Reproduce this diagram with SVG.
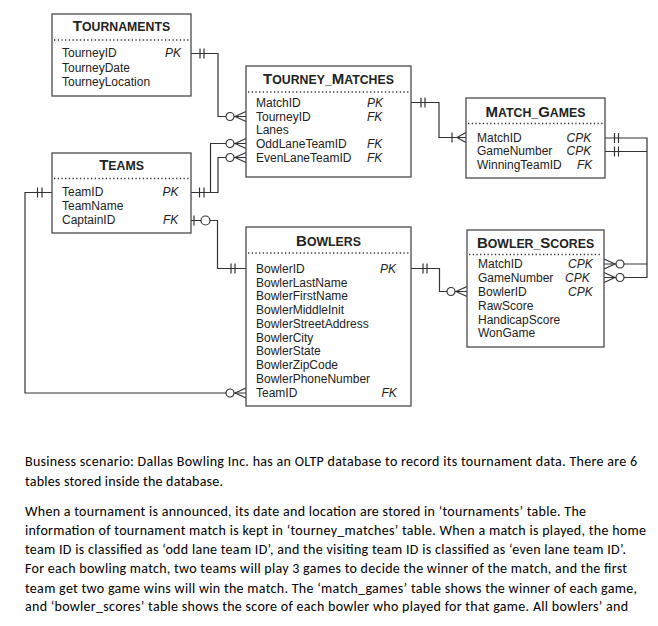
<svg xmlns="http://www.w3.org/2000/svg" width="658" height="626" viewBox="0 0 658 626">
<style>
.box{fill:#fff;stroke:#4a4a4a;stroke-width:1.3}
.dot{stroke:#333;stroke-width:1.4;stroke-dasharray:1.3 2.4;fill:none}
.ttl{font-family:"Liberation Sans",Arial,sans-serif;font-weight:bold;fill:#222;text-anchor:middle}
.big{font-size:15px}
.sm{font-size:12.3px}
.f{font-family:"Liberation Sans",Arial,sans-serif;font-size:12px;fill:#222}
.k{font-family:"Liberation Sans",Arial,sans-serif;font-size:12px;font-style:italic;fill:#222}
.ln{fill:none;stroke:#333;stroke-width:1.2}
.c{fill:#fff;stroke:#333;stroke-width:1.2}
.p{font-family:Carlito,Lato,"Liberation Sans",sans-serif;font-size:14px;fill:#000}
</style>
<defs>
<g id="zm"><circle class="c" cx="-16" cy="0" r="4"/><path class="ln" d="M-11,0 L0,-5 M-11,0 L0,5"/></g>
</defs>

<g id="connectors">
<!-- Tournaments -> Tourney_Matches -->
<path class="ln" d="M191,53.5 H218 V116.5 H246"/>
<path class="ln" d="M200,48.5 V58.5 M204,48.5 V58.5"/>
<use href="#zm" x="246" y="116.5"/>
<!-- Teams TeamID -> Tourney_Matches Odd/Even -->
<path class="ln" d="M191,192.5 H218 V157.5 H246 M210.5,192.5 V143.5 H246"/>
<path class="ln" d="M199.5,187.5 V197.5 M204,187.5 V197.5"/>
<use href="#zm" x="246" y="143.5"/>
<use href="#zm" x="246" y="157.5"/>
<!-- Teams TeamID -> Bowlers TeamID -->
<path class="ln" d="M52,192.5 H25 V393 H246"/>
<path class="ln" d="M37.5,187.5 V197.5 M42,187.5 V197.5"/>
<use href="#zm" x="246" y="393"/>
<!-- Teams CaptainID -> Bowlers BowlerID -->
<path class="ln" d="M191,220.5 H217.5 V268.5 H246"/>
<path class="ln" d="M194,215.5 V225.5 M231,263.5 V273.5 M235,263.5 V273.5"/>
<circle class="c" cx="205.5" cy="220.5" r="4.5"/>
<!-- Tourney_Matches -> Match_Games -->
<path class="ln" d="M411,102.5 H439 V137.5 H466"/>
<path class="ln" d="M421,97.5 V107.5 M425,97.5 V107.5 M452,132.5 V142.5 M457,137.5 L466,132.5 M457,137.5 L466,142.5"/>
<!-- Match_Games -> Bowler_Scores -->
<path class="ln" d="M605,138 H647 V277.5 H604 M605,151.5 H647 M647,264 H604"/>
<path class="ln" d="M614.5,133 V143 M618.5,133 V143 M614.5,146.5 V156.5 M618.5,146.5 V156.5"/>
<use href="#zm" transform="translate(604,264) scale(-1,1)"/>
<use href="#zm" transform="translate(604,277.5) scale(-1,1)"/>
<!-- Bowlers -> Bowler_Scores -->
<path class="ln" d="M411,268.5 H439.5 V291.5 H467"/>
<path class="ln" d="M423,263.5 V273.5 M427,263.5 V273.5"/>
<use href="#zm" x="467" y="291.5"/>
</g>

<g id="tournaments">
<rect class="box" x="52" y="14" width="139" height="82"/>
<text class="ttl" x="121.5" y="31"><tspan class="big">T</tspan><tspan class="sm">OURNAMENTS</tspan></text>
<line class="dot" x1="54" y1="40" x2="189" y2="40"/>
<text class="f" x="62" y="57.3">TourneyID</text>
<text class="f" x="62" y="71.5">TourneyDate</text>
<text class="f" x="62" y="85.5">TourneyLocation</text>
<text class="k" x="165" y="57.3">PK</text>
</g>

<g id="teams">
<rect class="box" x="52" y="153" width="139" height="80"/>
<text class="ttl" x="121.5" y="170"><tspan class="big">T</tspan><tspan class="sm">EAMS</tspan></text>
<line class="dot" x1="54" y1="178.5" x2="189" y2="178.5"/>
<text class="f" x="62" y="196">TeamID</text>
<text class="f" x="62" y="210">TeamName</text>
<text class="f" x="62" y="224">CaptainID</text>
<text class="k" x="162.5" y="196">PK</text>
<text class="k" x="163" y="224">FK</text>
</g>

<g id="tourney_matches">
<rect class="box" x="246" y="66" width="165" height="111"/>
<text class="ttl" x="328.5" y="84"><tspan class="big">T</tspan><tspan class="sm">OURNEY_</tspan><tspan class="big">M</tspan><tspan class="sm">ATCHES</tspan></text>
<line class="dot" x1="248" y1="92" x2="409" y2="92"/>
<text class="f" x="256" y="106.7">MatchID</text>
<text class="f" x="256" y="120.5">TourneyID</text>
<text class="f" x="256" y="134.2">Lanes</text>
<text class="f" x="256" y="148">OddLaneTeamID</text>
<text class="f" x="256" y="161.7">EvenLaneTeamID</text>
<text class="k" x="367" y="106.7">PK</text>
<text class="k" x="367" y="120.5">FK</text>
<text class="k" x="367" y="148">FK</text>
<text class="k" x="367" y="161.7">FK</text>
</g>

<g id="match_games">
<rect class="box" x="466" y="98" width="139" height="80"/>
<text class="ttl" x="535.5" y="116.5"><tspan class="big">M</tspan><tspan class="sm">ATCH_</tspan><tspan class="big">G</tspan><tspan class="sm">AMES</tspan></text>
<line class="dot" x1="468" y1="123.5" x2="603" y2="123.5"/>
<text class="f" x="477" y="141.7">MatchID</text>
<text class="f" x="477" y="155">GameNumber</text>
<text class="f" x="477" y="168.5">WinningTeamID</text>
<text class="k" x="566.5" y="141.7">CPK</text>
<text class="k" x="566.5" y="155">CPK</text>
<text class="k" x="577" y="168.5">FK</text>
</g>

<g id="bowlers">
<rect class="box" x="246" y="227" width="165" height="179"/>
<text class="ttl" x="328.5" y="246"><tspan class="big">B</tspan><tspan class="sm">OWLERS</tspan></text>
<line class="dot" x1="248" y1="253" x2="409" y2="253"/>
<text class="f" x="256" y="272.7">BowlerID</text>
<text class="f" x="256" y="286.5">BowlerLastName</text>
<text class="f" x="256" y="300.3">BowlerFirstName</text>
<text class="f" x="256" y="314">BowlerMiddleInit</text>
<text class="f" x="256" y="327.8">BowlerStreetAddress</text>
<text class="f" x="256" y="341.6">BowlerCity</text>
<text class="f" x="256" y="355.4">BowlerState</text>
<text class="f" x="256" y="369.2">BowlerZipCode</text>
<text class="f" x="256" y="383">BowlerPhoneNumber</text>
<text class="f" x="256" y="396.7">TeamID</text>
<text class="k" x="380" y="272.7">PK</text>
<text class="k" x="381.5" y="396.7">FK</text>
</g>

<g id="bowler_scores">
<rect class="box" x="467" y="230" width="137" height="117"/>
<text class="ttl" x="535.5" y="248"><tspan class="big">B</tspan><tspan class="sm">OWLER_</tspan><tspan class="big">S</tspan><tspan class="sm">CORES</tspan></text>
<line class="dot" x1="469" y1="254.5" x2="602" y2="254.5"/>
<text class="f" x="478" y="268.3">MatchID</text>
<text class="f" x="478" y="282.1">GameNumber</text>
<text class="f" x="478" y="295.9">BowlerID</text>
<text class="f" x="478" y="309.7">RawScore</text>
<text class="f" x="478" y="323.5">HandicapScore</text>
<text class="f" x="478" y="337.3">WonGame</text>
<text class="k" x="568" y="268.3">CPK</text>
<text class="k" x="565" y="282.1">CPK</text>
<text class="k" x="568" y="295.9">CPK</text>
</g>

<g id="description">
<text class="p" x="25" y="466" textLength="612">Business scenario: Dallas Bowling Inc. has an OLTP database to record its tournament data. There are 6</text>
<text class="p" x="25" y="485.7" textLength="198">tables stored inside the database.</text>
<text class="p" x="25" y="516" textLength="561">When a tournament is announced, its date and location are stored in ‘tournaments’ table. The</text>
<text class="p" x="25" y="534.5" textLength="621">information of tournament match is kept in ‘tourney_matches’ table. When a match is played, the home</text>
<text class="p" x="25" y="554" textLength="601">team ID is classified as ‘odd lane team ID’, and the visiting team ID is classified as ‘even lane team ID’.</text>
<text class="p" x="25" y="573.3" textLength="602">For each bowling match, two teams will play 3 games to decide the winner of the match, and the first</text>
<text class="p" x="25" y="592.5" textLength="612">team get two game wins will win the match. The ‘match_games’ table shows the winner of each game,</text>
<text class="p" x="25" y="611" textLength="603">and ‘bowler_scores’ table shows the score of each bowler who played for that game. All bowlers’ and</text>
</g>
</svg>
